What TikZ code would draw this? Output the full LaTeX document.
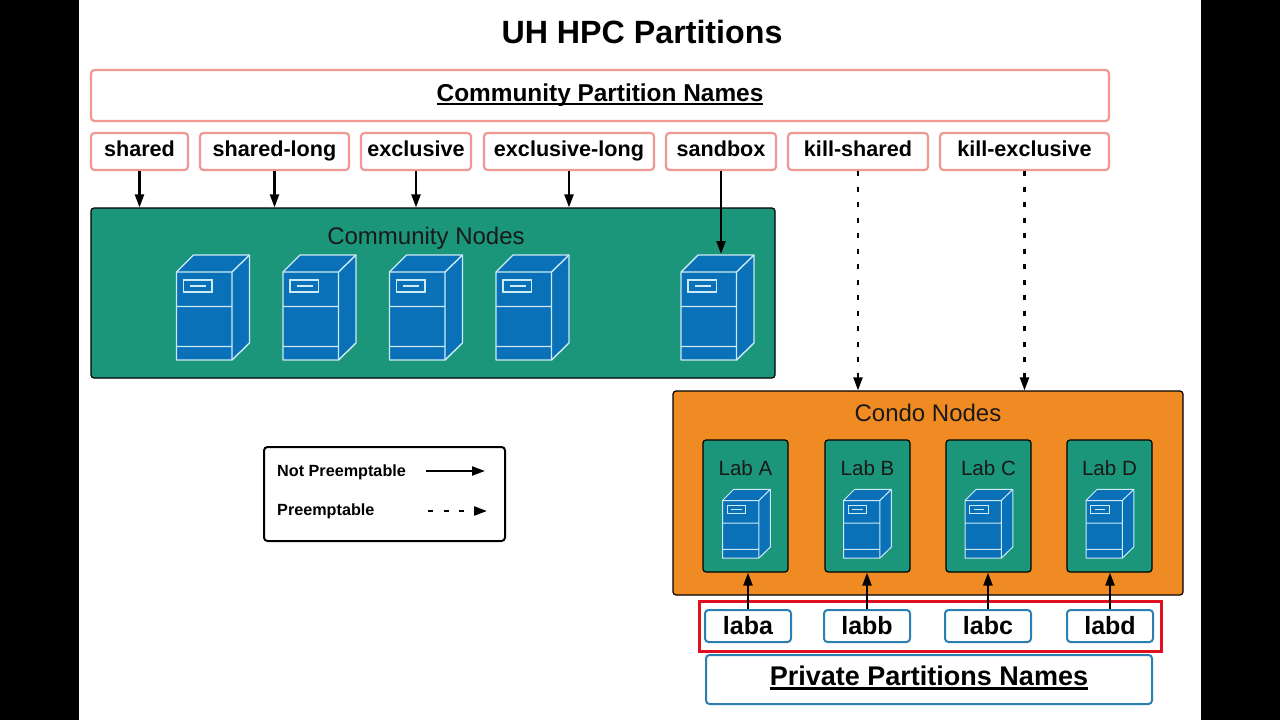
\documentclass[tikz,border=0pt]{standalone}
\usepackage{fontspec}
\setmainfont{Liberation Sans}
\usetikzlibrary{arrows.meta}
\definecolor{teal1}{HTML}{1B967A}
\definecolor{orange1}{HTML}{EF8B22}
\definecolor{pink1}{HTML}{EE9A92}
\definecolor{blue1}{HTML}{2A80B0}
\definecolor{srvblue}{HTML}{0A70B8}
\definecolor{srvline}{HTML}{CDEBF5}
\definecolor{red1}{HTML}{E01020}
\newcommand{\ultext}[2]{\setbox0\hbox{#2}\rlap{\raisebox{#1}{\rule{\wd0}{2.5pt}}}\box0}
\tikzset{
    partbox/.style={draw=pink1,line width=2.2pt,rounded corners=3.5pt,fill=white,inner sep=0pt,minimum height=37pt,text depth=7pt,text height=16pt,font=\fontsize{21.6}{24}\selectfont\bfseries},
    labbox/.style={draw=blue1,line width=2pt,rounded corners=3.5pt,fill=white,inner sep=0pt,minimum width=86pt,minimum height=32pt,font=\fontsize{25}{28}\selectfont\bfseries},
    nodearea/.style={draw=black,line width=1.2pt,rounded corners=3pt,inner sep=0pt},
    labarea/.style={nodearea,fill=teal1,minimum width=85pt,minimum height=132pt},
    areatext/.style={inner sep=0pt,text=black!90,font=\fontsize{24}{26}\selectfont},
    labtext/.style={inner sep=0pt,text=black!90,font=\fontsize{20.6}{23}\selectfont},
    legendtext/.style={inner sep=0pt,anchor=west,font=\fontsize{16.2}{18}\selectfont\bfseries},
    solidarrow/.style={-{Triangle[length=13pt,width=9pt]},line width=2.2pt},
    dotarrow/.style={-{Triangle[length=13pt,width=9pt]},line width=2.2pt,dash pattern=on 5pt off 10.5pt},
    bigserver/.style={line width=1.4pt},
    smallserver/.style={scale=0.655,line width=1pt},
    server/.pic={
        \draw[fill=srvblue,draw=srvline,line join=round]
            (0,0) -- (17,-17) -- (73,-17) -- (73,71) -- (55.5,88) -- (0,88) -- cycle;
        \draw[draw=srvline,line join=round]
            (0,0) -- (55.5,0) -- (73,-17) (55.5,0) -- (55.5,88)
            (0,34.5) -- (55.5,34.5) (0,74.5) -- (55.5,74.5);
        \draw[draw=srvline] (7,8) rectangle (35.5,20);
        \draw[draw=srvline] (13.5,14) -- (29.5,14);
        \coordinate (-top) at (44,-18);
    }
}
\begin{document}
\begin{tikzpicture}[x=1pt,y=-1pt]
    \useasboundingbox (0,0) rectangle (1280,720);
    \fill[black] (0,0) rectangle (79,720);
    \fill[black] (1201,0) rectangle (1280,720);
    \node[inner sep=0pt,font=\fontsize{32.2}{36}\selectfont\bfseries] (title) at (642,32) {UH HPC Partitions};

    \node[partbox,minimum width=1018pt,minimum height=51pt,font=\fontsize{24.4}{26}\selectfont\bfseries,text depth=7pt,text height=18pt] (names) at (600,95.5) {\ultext{-4pt}{Community Partition Names}};
    \node[partbox,minimum width=97pt] (shared) at (139.5,151.5) {shared};
    \node[partbox,minimum width=149pt] (sharedlong) at (274.5,151.5) {shared-long};
    \node[partbox,minimum width=110pt] (exclusive) at (416,151.5) {exclusive};
    \node[partbox,minimum width=170pt] (exclusivelong) at (569,151.5) {exclusive-long};
    \node[partbox,minimum width=110pt] (sandbox) at (721,151.5) {sandbox};
    \node[partbox,minimum width=140pt] (killshared) at (858,151.5) {kill-shared};
    \node[partbox,minimum width=169pt] (killexclusive) at (1024.5,151.5) {kill-exclusive};

    \node[nodearea,fill=teal1,minimum width=684pt,minimum height=170pt] (community) at (433,293) {};
    \node[areatext] (communitytext) at (426,238) {Community Nodes};
    \pic[bigserver] at (176.5,272) {server};
    \pic[bigserver] at (283,272) {server};
    \pic[bigserver] at (389.5,272) {server};
    \pic[bigserver] at (496,272) {server};
    \pic[bigserver] (last) at (681,272) {server};

    \node[nodearea,fill=orange1,minimum width=510pt,minimum height=204pt] (condo) at (928,493) {};
    \node[areatext] (condotext) at (928,413) {Condo Nodes};
    \foreach \name/\cx/\sx/\txt in {labA/745.5/722.5/Lab A,labB/867.5/843.5/Lab B,labC/988.5/965/Lab C,labD/1109.5/1086/Lab D}{
        \node[labarea] (\name) at (\cx,506) {};
        \node[labtext] at (\cx,468) {\txt};
        \pic[smallserver] at (\sx,500.5) {server};
    }

    \node[draw=red1,line width=3pt,minimum width=462pt,minimum height=50pt,inner sep=0pt] (privatearea) at (930,626) {};
    \node[labbox] (laba) at (748,626) {laba};
    \node[labbox] (labb) at (867,626) {labb};
    \node[labbox] (labc) at (988,626) {labc};
    \node[labbox] (labd) at (1110,626) {labd};
    \node[labbox,minimum width=446pt,minimum height=49pt,font=\fontsize{27}{30}\selectfont\bfseries,text depth=8pt,text height=20pt] (private) at (929,679.5) {\ultext{-4pt}{Private Partitions Names}};

    \node[draw=black,line width=2pt,rounded corners=3.5pt,minimum width=241pt,minimum height=94pt,inner sep=0pt] (legend) at (384.5,494) {};
    \node[legendtext] (notpre) at (277,472) {Not Preemptable};
    \node[legendtext] (pre) at (277,511) {Preemptable};
    \coordinate (notprea) at (426,471);
    \coordinate (notpreb) at (485,471);
    \coordinate (prea) at (428,511);
    \coordinate (preb) at (487,511);
    \draw[solidarrow] (notprea) -- (notpreb);
    \draw[dotarrow] (prea) -- (preb);

    \draw[solidarrow] (shared.south) -- (shared.south |- community.north);
    \draw[solidarrow] (sharedlong.south) -- (sharedlong.south |- community.north);
    \draw[solidarrow] (exclusive.south) -- (exclusive.south |- community.north);
    \draw[solidarrow] (exclusivelong.south) -- (exclusivelong.south |- community.north);
    \draw[solidarrow] (sandbox.south) -- (sandbox.south |- last-top);
    \draw[dotarrow] (killshared.south) -- (killshared.south |- condo.north);
    \draw[dotarrow] (killexclusive.south) -- (killexclusive.south |- condo.north);
    \draw[solidarrow] (laba.north) -- (laba.north |- labA.south);
    \draw[solidarrow] (labb.north) -- (labb.north |- labB.south);
    \draw[solidarrow] (labc.north) -- (labc.north |- labC.south);
    \draw[solidarrow] (labd.north) -- (labd.north |- labD.south);
\end{tikzpicture}
\end{document}
